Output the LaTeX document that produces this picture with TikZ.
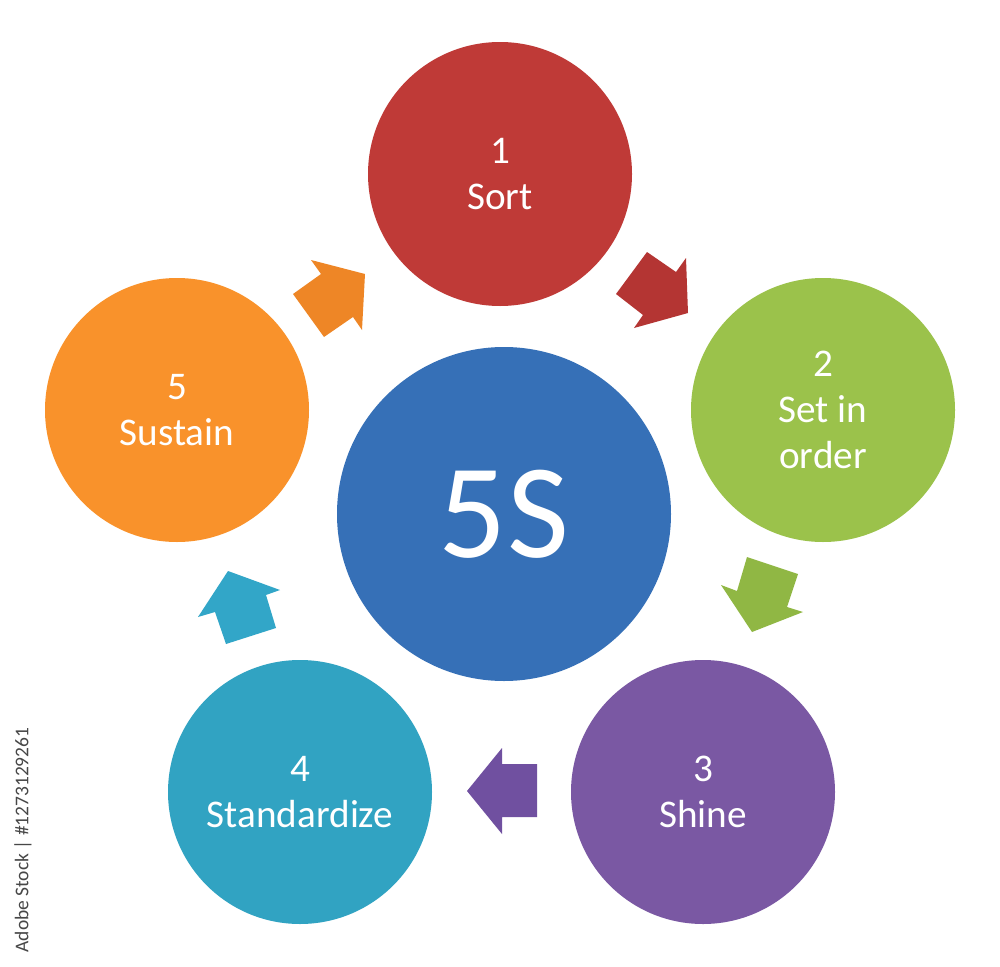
\documentclass[tikz,border=0pt]{standalone}
\usepackage{fontspec}
\setmainfont{Carlito}
\definecolor{cred}{HTML}{BF3A37}
\definecolor{cgreen}{HTML}{9BC24B}
\definecolor{cpurple}{HTML}{7A58A3}
\definecolor{cteal}{HTML}{31A3C2}
\definecolor{corange}{HTML}{F9922B}
\definecolor{cblue}{HTML}{3670B7}
\definecolor{ared}{HTML}{B43533}
\definecolor{agreen}{HTML}{90B744}
\definecolor{apurple}{HTML}{7050A0}
\definecolor{ateal}{HTML}{32A6C8}
\definecolor{aorange}{HTML}{EE8626}
\tikzset{
  x=0.75pt,y=-0.75pt,
  disc/.style={circle,inner sep=0pt,minimum size=198pt,text=white,align=center,font=\fontsize{29.4}{34.5}\selectfont},
}
\begin{document}
\begin{tikzpicture}
\useasboundingbox (0,0) rectangle (1000,967);
\fill[white] (0,0) rectangle (1000,967);
\node[disc,fill=cred] (n1) at (500,174) {1\\Sort};
\node[disc,fill=cgreen] (n2) at (823,410) {2\\Set in\\order};
\node[disc,fill=cpurple] (n3) at (703,792) {3\\Shine};
\node[disc,fill=cteal] (n4) at (300,792) {4\\Standardize};
\node[disc,fill=corange] (n5) at (177,410) {5\\Sustain};
\node[disc,fill=cblue,minimum size=250.5pt,font=\fontsize{101}{114}\selectfont] (c) at (504,514) {5S};
\fill[ared] (647,252)--(676,272)--(686,258)--(688,313)--(634,328)--(643,315)--(616,294)--cycle;
\fill[agreen] (747,557)--(798,574)--(787,607)--(803,612)--(752,632)--(721,585)--(737,591)--cycle;
\fill[apurple] (537,764)--(502,764)--(502,748)--(467,791)--(502,834)--(502,817)--(537,817)--cycle;
\fill[ateal] (228,571)--(280,590)--(266,595)--(276,628)--(226,644)--(215,612)--(198,617)--cycle;
\fill[aorange] (311,260)--(365,274)--(362,330)--(353,317)--(324,337)--(293,294)--(321,274)--cycle;
\node[rotate=90,text=black!72,font=\fontsize{14.6}{18}\selectfont,inner sep=0pt] (stock) at (23,840) {Adobe Stock | \#1273129261};
\end{tikzpicture}
\end{document}
